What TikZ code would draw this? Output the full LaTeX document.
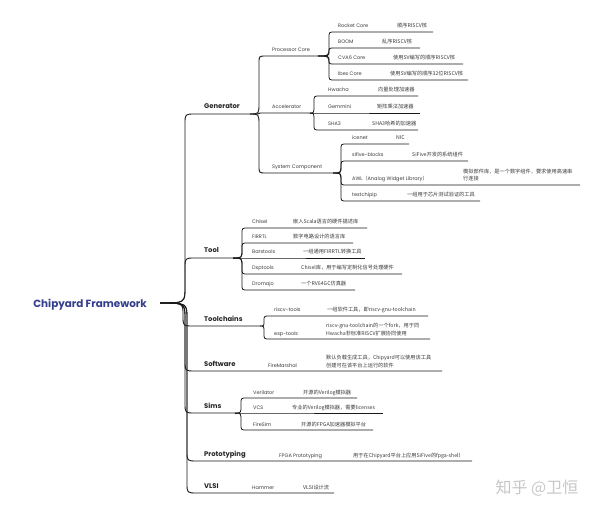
\documentclass[tikz,border=0pt]{standalone}
\usepackage{fontspec}
\setmainfont{Poppins}
\newfontfamily\cjk{Noto Sans CJK SC}
\usepackage{xcolor}
\definecolor{rootblue}{RGB}{52,62,140}
\definecolor{inkgray}{RGB}{60,60,60}
\usepackage{tikz}
\usetikzlibrary{calc}

\tikzset{
  % rounded elbow connector: soft bend at the start, tighter bend at the end
  branch/.style={to path={
    let \p1=(\tikztostart), \p2=(\tikztotarget),
        \n1={(\y2>\y1)*2-1}, \n2={min(1.6*#1,abs(\y2-\y1)/2)},
        \n3={min(#1,abs(\y2-\y1)/2)}
    in .. controls (\x2-#1,\y1) .. (\x2-#1,\y1+\n1*\n2)
       -- (\x2-#1,\y2-\n1*\n3)
       .. controls (\x2-#1,\y2) .. (\tikztotarget)}},
  branch/.default=6pt,
  rootnode/.style={font=\fontsize{10.4}{12}\selectfont\bfseries, text=rootblue, inner sep=0pt, anchor=base east},
  topic/.style={font=\fontsize{6.8}{8}\selectfont\bfseries, text=black!85, inner sep=0pt, anchor=base west},
  item/.style={font=\fontsize{5}{6}\selectfont, text=inkgray, inner sep=0pt, anchor=base west},
  note/.style={font=\cjk\fontsize{5.2}{7.5}\selectfont, text=inkgray, inner sep=0pt, anchor=base west, align=left},
  link/.style={line width=0.9pt, draw=black!90},
  leaf/.style={line width=0.8pt, draw=black!90},
  watermark/.style={font=\cjk\fontsize{16}{16}\selectfont, text=black!22, inner sep=0pt}
}

\begin{document}
\begin{tikzpicture}[x=1pt,y=-1pt]
\useasboundingbox[fill=white] (0,0) rectangle (600,513);

% Root
\node[rootnode] (root) at (147,307) {Chipyard Framework};
\coordinate (root-e) at (160,303);

% Main topics
\foreach \name/\ly/\sx/\ex/\lab in {gen/114/195/250/Generator, tool/258/195/233/Tool, chain/326/193/260/Toolchains, soft/371/195/442/Software, sims/413/195/235/Sims, proto/461/197/472/Prototyping, vlsi/493/197/334/VLSI} {
  \node[topic] (\name) at (204,\ly-5) {\lab};
  \coordinate (\name-s) at (\sx,\ly);
  \coordinate (\name-e) at (\ex,\ly);
  \draw[link] (root-e) to[branch=10pt] (\name-s) -- (\name-e);
}

% Generator
\foreach \name/\ly/\ex/\lab in {proc/56/318/Processor Core, acc/113/310/Accelerator, sys/173/333/System Component} {
  \node[item] (\name) at (272,\ly-4) {\lab};
  \coordinate (\name-s) at (266,\ly);
  \coordinate (\name-e) at (\ex,\ly);
  \draw[link] (gen-e) to[branch=7pt] (\name-s) -- (\name-e);
}

% Processor Core
\foreach \name/\ly/\ex/\lab/\dx/\txt in {rocket/32/433/Rocket Core/397/顺序RISCV核, boom/48/420/BOOM/382/乱序RISCV核, cva/64/463/CVA6 Core/393/使用SV编写的顺序RISCV核, ibex/80/468/Ibex Core/390/使用SV编写的顺序32位RISCV核} {
  \node[item] (\name) at (338,\ly-4) {\lab};
  \node[note] (\name-d) at (\dx,\ly-4) {\txt};
  \coordinate (\name-s) at (335,\ly);
  \coordinate (\name-e) at (\ex,\ly);
  \draw[leaf] (proc-e) to[branch] (\name-s) -- (\name-e);
}

% Accelerator
\foreach \name/\ly/\ex/\lab/\dx/\txt in {hwacha/96/418/Hwacha/378/向量处理加速器, gemmini/113/420/Gemmini/377/矩阵乘法加速器, sha/130/418/SHA3/372/SHA3哈希的加速器} {
  \node[item] (\name) at (328,\ly-4) {\lab};
  \node[note] (\name-d) at (\dx,\ly-4) {\txt};
  \coordinate (\name-s) at (320,\ly);
  \coordinate (\name-e) at (\ex,\ly);
  \draw[leaf] (acc-e) to[branch] (\name-s) -- (\name-e);
}

% System Component
\foreach \name/\ly/\ex/\lab/\dx/\txt in {icenet/144/409/icenet/396/NIC, sifive/161/468/sifive-blocks/412/SiFive开发的系统组件, awl/185/580/{AWL{\cjk （}Analog Widget Library{\cjk ）}}/463/{模拟部件库，是一个数字组件，要求使用高速串\\行连接}, testchip/201/480/testchipip/407/一组用于芯片测试验证的工具} {
  \node[item] (\name) at (352,\ly-4) {\lab};
  \node[note] (\name-d) at (\dx,\ly-4) {\txt};
  \coordinate (\name-s) at (347,\ly);
  \coordinate (\name-e) at (\ex,\ly);
  \draw[leaf] (sys-e) to[branch] (\name-s) -- (\name-e);
}

% Tool
\foreach \name/\ly/\ex/\lab/\dx/\txt in {chisel/228/367/Chisel/293/嵌入Scala语言的硬件描述库, firrtl/243/353/FIRRTL/293/数字电路设计的语言库, bars/258/365/Barstools/303/一组通用FIRRTL转换工具, dsp/274/402/Dsptools/301/Chisel库，用于编写定制化信号处理硬件, dromajo/290/355/Dromajo/301/一个RV64GC仿真器} {
  \node[item] (\name) at (252,\ly-4) {\lab};
  \node[note] (\name-d) at (\dx,\ly-4) {\txt};
  \coordinate (\name-s) at (248,\ly);
  \coordinate (\name-e) at (\ex,\ly);
  \draw[leaf] (tool-e) to[branch] (\name-s) -- (\name-e);
}

% Toolchains
\foreach \name/\ly/\ex/\lab/\dx/\txt in {riscv/316/428/riscv-tools/327/一组软件工具，即riscv-gnu-toolchain, esp/339/430/esp-tools/326/{riscv-gnu-toolchain的一个fork，用于同\\Hwacha非标准RISCV扩展协同使用}} {
  \node[item] (\name) at (274,\ly-4) {\lab};
  \node[note] (\name-d) at (\dx,\ly-4) {\txt};
  \coordinate (\name-s) at (270,\ly);
  \coordinate (\name-e) at (\ex,\ly);
  \draw[leaf] (chain-e) to[branch] (\name-s) -- (\name-e);
}

% Software
\node[item] (fmarshal) at (268,367) {FireMarshal};
\node[note] (fmarshal-d) at (326,367) {默认负载生成工具，Chipyard可以使用该工具\\创建可在该平台上运行的软件};

% Sims
\foreach \name/\ly/\ex/\lab/\dx/\txt in {veri/398/357/Verilator/303/开源的Verilog模拟器, vcs/413/383/VCS/292/专业的Verilog模拟器，需要licenses, fsim/430/373/FireSim/301/开源的FPGA加速器模拟平台} {
  \node[item] (\name) at (253,\ly-4) {\lab};
  \node[note] (\name-d) at (\dx,\ly-4) {\txt};
  \coordinate (\name-s) at (247,\ly);
  \coordinate (\name-e) at (\ex,\ly);
  \draw[leaf] (sims-e) to[branch] (\name-s) -- (\name-e);
}

% Prototyping and VLSI
\node[item] (fpga) at (279,457) {FPGA Prototyping};
\node[note] (fpga-d) at (353,457) {用于在Chipyard平台上应用SiFive的fpga-shell};
\node[item] (hammer) at (252,489) {Hammer};
\node[note] (hammer-d) at (303,489) {VLSI设计流};

% Watermark
\node[watermark] (zhihu) at (537,488) {知乎 @卫恒};

\end{tikzpicture}
\end{document}
